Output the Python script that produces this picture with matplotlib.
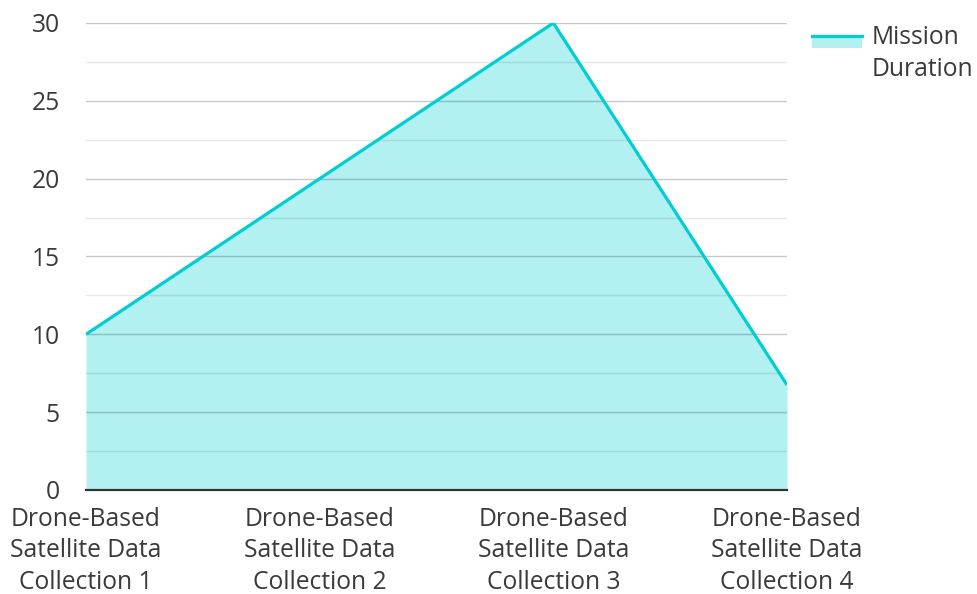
import matplotlib.pyplot as plt
from matplotlib.ticker import MultipleLocator
from matplotlib.patches import Rectangle
from matplotlib.lines import Line2D

plt.rcParams['font.family'] = ['Open Sans', 'DejaVu Sans']

categories = [
    "Drone-Based\nSatellite Data\nCollection 1",
    "Drone-Based\nSatellite Data\nCollection 2",
    "Drone-Based\nSatellite Data\nCollection 3",
    "Drone-Based\nSatellite Data\nCollection 4",
]
mission_duration = [10, 20, 30, 6.75]
series_name = "Mission\nDuration"

line_color = '#00CED1'
text_color = '#3a3a3a'

fig = plt.figure(figsize=(9.77, 5.94), dpi=100)
ax = fig.add_axes([0.088, 0.1751, 0.7175, 0.7862])

x = range(len(categories))
ax.fill_between(x, mission_duration, color=line_color, alpha=0.3, lw=0, zorder=1)
ax.plot(x, mission_duration, color=line_color, lw=2.3, zorder=3, solid_capstyle='butt')

ax.set_xlim(0, len(categories) - 1)
ax.set_ylim(0, 30)
ax.yaxis.set_major_locator(MultipleLocator(5))
ax.yaxis.set_minor_locator(MultipleLocator(2.5))
ax.set_xticks(list(x))
ax.set_xticklabels(categories, linespacing=1.35)

ax.set_axisbelow(False)
ax.grid(axis='y', which='major', color='black', alpha=0.21, lw=1.0, zorder=2)
ax.grid(axis='y', which='minor', color='black', alpha=0.09, lw=1.0, zorder=2)
ax.grid(axis='x', visible=False)

for side in ['top', 'right', 'left']:
    ax.spines[side].set_visible(False)
ax.spines['bottom'].set_color('#333333')
ax.spines['bottom'].set_linewidth(1.6)
ax.spines['bottom'].set_zorder(4)

ax.tick_params(axis='y', which='both', length=0, pad=19, labelsize=17.7, labelcolor=text_color)
ax.tick_params(axis='x', length=0, pad=12, labelsize=17.7, labelcolor=text_color)

# legend: line over a filled swatch, with the name beside it
fig.add_artist(Rectangle((812 / 977, 1 - 48 / 594), 50 / 977, 13 / 594,
                         transform=fig.transFigure, color=line_color, alpha=0.3, lw=0))
fig.add_artist(Line2D([812 / 977, 862 / 977], [1 - 35.5 / 594] * 2,
                      transform=fig.transFigure, color=line_color, lw=2.3))
fig.text(872 / 977, 1 - 24.5 / 594, series_name, ha='left', va='top',
         fontsize=17.7, color=text_color, linespacing=1.38)

fig.savefig('out.png', dpi=100)
